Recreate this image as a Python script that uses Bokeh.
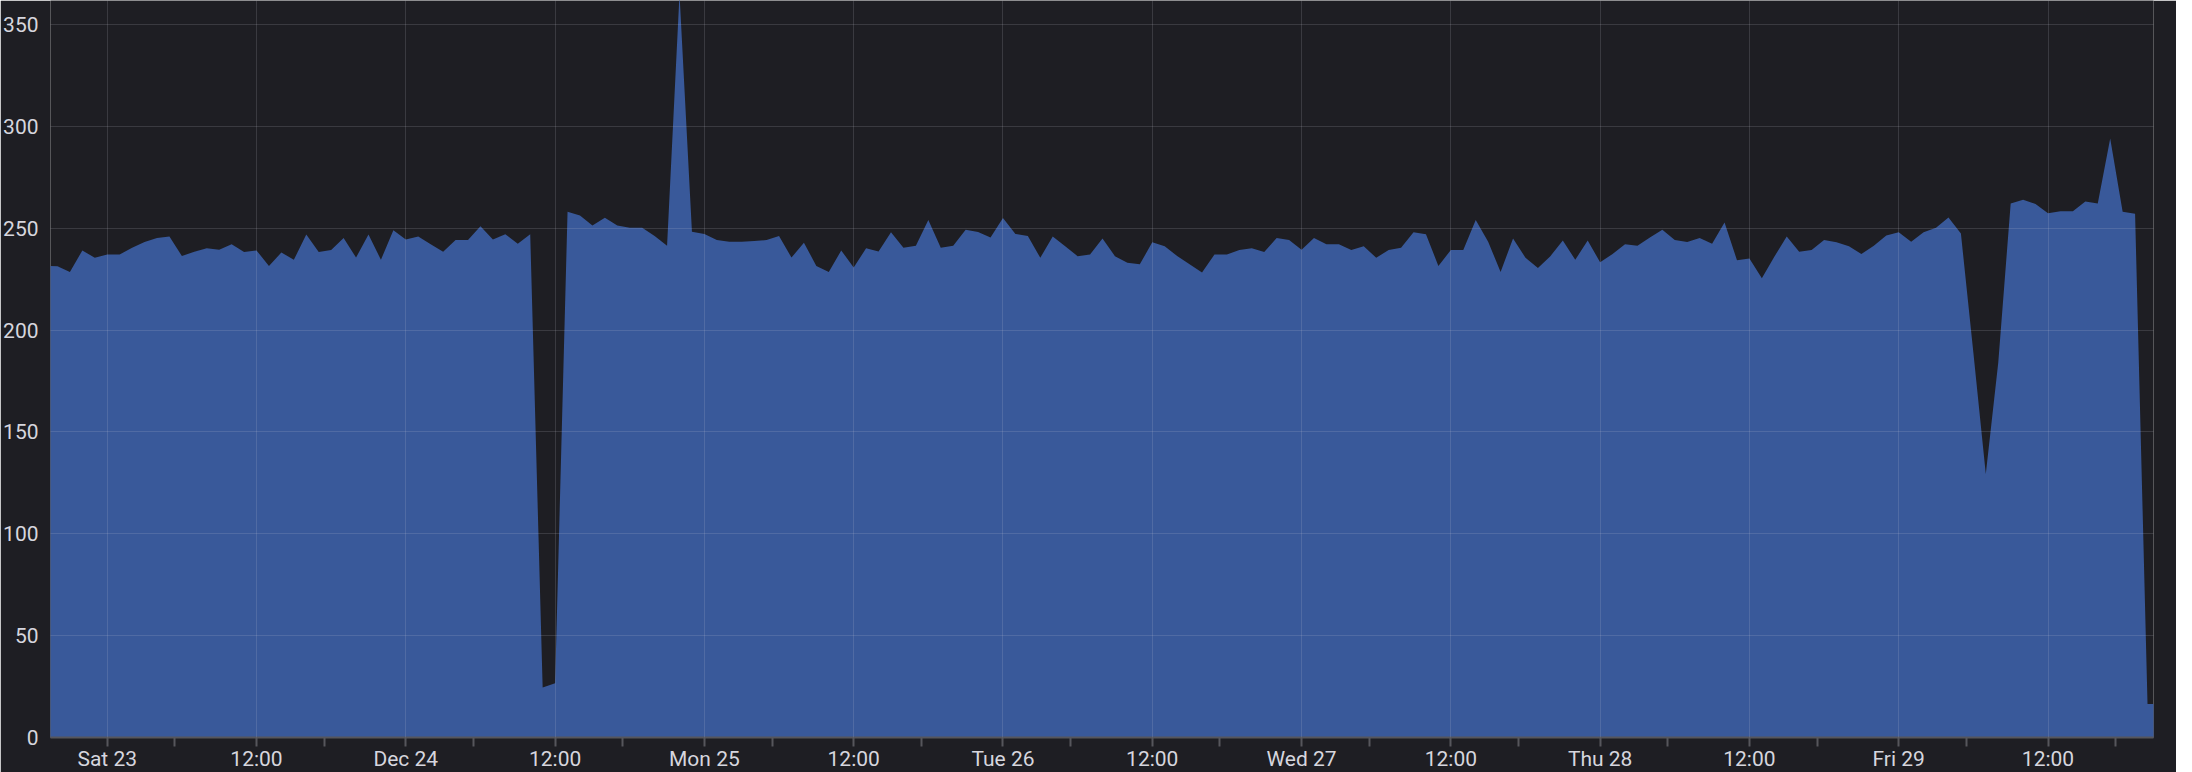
import numpy as np
from bokeh.plotting import figure
from bokeh.models import FixedTicker, Range1d
from bokeh.embed import file_html
from bokeh.resources import INLINE

# ---------------- data ----------------
start_time = "2023-12-22T19:00"          # first hourly sample
values = [
    231.6, 231.3, 228.5, 239.1, 235.5,                     # Fri 22 19:00 .. 23:00
    237.1, 237.1, 240.4, 243.2, 245.2, 246.0, 236.4, 238.4, 240.2, 239.4, 242.1, 238.3,
    239.1, 231.5, 238.1, 234.5, 246.9, 238.3, 239.3, 245.2, 235.6, 246.9, 234.5, 249.0,
    244.5, 246.0, 242.2, 238.4, 244.2, 244.2, 251.0, 244.5, 247.0, 242.4, 247.0, 24.6,
    26.6, 258.1, 256.3, 251.3, 255.1, 251.3, 250.3, 250.2, 246.2, 241.4, 365.0, 248.3,
    247.2, 244.2, 243.4, 243.4, 243.7, 244.2, 246.2, 235.6, 242.9, 231.5, 228.5, 239.1,
    230.7, 240.2, 238.6, 248.0, 240.4, 241.4, 254.0, 240.4, 241.4, 249.2, 248.2, 245.5,
    255.0, 247.2, 246.2, 235.5, 246.0, 241.2, 236.3, 237.1, 245.0, 236.3, 233.1, 232.3,
    243.1, 241.2, 236.4, 232.3, 228.3, 237.1, 237.1, 239.3, 240.2, 238.3, 245.2, 244.2,
    239.4, 245.2, 242.2, 242.1, 239.3, 241.2, 235.5, 239.3, 240.4, 248.0, 247.0, 231.5,
    239.3, 239.3, 254.0, 243.4, 228.5, 245.0, 235.5, 230.5, 236.3, 244.0, 234.5, 244.0,
    233.3, 237.3, 242.2, 241.4, 245.4, 249.2, 244.2, 243.2, 245.2, 242.4, 252.8, 234.3,
    235.1, 225.5, 236.0, 246.0, 238.4, 239.3, 244.2, 243.1, 241.2, 237.3, 241.4, 246.4,
    248.0, 243.4, 248.0, 250.2, 255.3, 247.4, 189.0, 129.3, 184.0, 262.1, 264.0, 261.9,
    257.4, 258.3, 258.3, 263.1, 262.2, 294.1, 258.1, 257.1, 16.4, 16.4,
]
y_ticks = [0, 50, 100, 150, 200, 250, 300, 350]
x_tick_times = [
    "2023-12-23T00:00", "2023-12-23T12:00", "2023-12-24T00:00", "2023-12-24T12:00",
    "2023-12-25T00:00", "2023-12-25T12:00", "2023-12-26T00:00", "2023-12-26T12:00",
    "2023-12-27T00:00", "2023-12-27T12:00", "2023-12-28T00:00", "2023-12-28T12:00",
    "2023-12-29T00:00", "2023-12-29T12:00",
]
x_tick_labels = [
    "Sat 23", "12:00", "Dec 24", "12:00", "Mon 25", "12:00", "Tue 26", "12:00",
    "Wed 27", "12:00", "Thu 28", "12:00", "Fri 29", "12:00",
]
view_start = "2023-12-22T19:26:24"
view_end = "2023-12-29T20:28:48"

# ---------------- helpers ----------------
EPOCH = np.datetime64("1970-01-01T00:00:00", "ms")


def to_ms(t):
    return float((np.datetime64(t, "ms") - EPOCH).astype(np.int64))


times = np.datetime64(start_time, "ms") + np.arange(len(values)) * np.timedelta64(1, "h")

major_ms = [to_ms(t) for t in x_tick_times]
minor_offset_ms = 5.44 * 3600 * 1000
minor_ms = [m + minor_offset_ms for m in major_ms if m + minor_offset_ms < to_ms(view_end)]

# ---------------- style ----------------
BG = "#1e1e23"
FILL = "#39599a"
TEXT = "#d6d6de"
AXIS = "#56565c"
FONT = "Roboto"

p = figure(
    width=2176, height=773,
    x_axis_type="datetime",
    output_backend="svg", toolbar_location=None,
    x_range=Range1d(np.datetime64(view_start, "ms"), np.datetime64(view_end, "ms")),
    y_range=Range1d(0, 361.8),
    min_border_left=41, min_border_right=23, min_border_top=0, min_border_bottom=35,
)
p.background_fill_color = BG
p.border_fill_color = BG
p.outline_line_color = None

p.varea(x=times, y1=0, y2=values, fill_color=FILL, fill_alpha=1.0)

# grids (drawn over the area, as in the reference)
for g in (p.xgrid, p.ygrid):
    g.grid_line_color = "#ccccdc"
    g.grid_line_alpha = 0.16
    g.grid_line_width = 1
    g.level = "overlay"

# y axis
p.yaxis.ticker = FixedTicker(ticks=y_ticks)
p.yaxis.axis_line_color = None
p.yaxis.major_tick_line_color = None
p.yaxis.minor_tick_line_color = None
p.yaxis.major_label_standoff = 6
p.yaxis.major_label_text_color = TEXT
p.yaxis.major_label_text_font = FONT
p.yaxis.major_label_text_font_size = "21px"

# x axis
p.xaxis.ticker = FixedTicker(ticks=major_ms, minor_ticks=minor_ms)
p.xaxis.major_label_overrides = {m: lab for m, lab in zip(major_ms, x_tick_labels)}
p.xaxis.axis_line_color = AXIS
p.xaxis.axis_line_width = 2
p.xaxis.major_tick_line_color = AXIS
p.xaxis.major_tick_line_width = 2
p.xaxis.major_tick_in = 0
p.xaxis.major_tick_out = 9
p.xaxis.minor_tick_line_color = AXIS
p.xaxis.minor_tick_line_width = 2
p.xaxis.minor_tick_in = 0
p.xaxis.minor_tick_out = 9
p.xaxis.major_label_standoff = 0
p.xaxis.major_label_text_color = TEXT
p.xaxis.major_label_text_font = FONT
p.xaxis.major_label_text_font_size = "21px"

open("out.html", "w").write(file_html(p, INLINE))
